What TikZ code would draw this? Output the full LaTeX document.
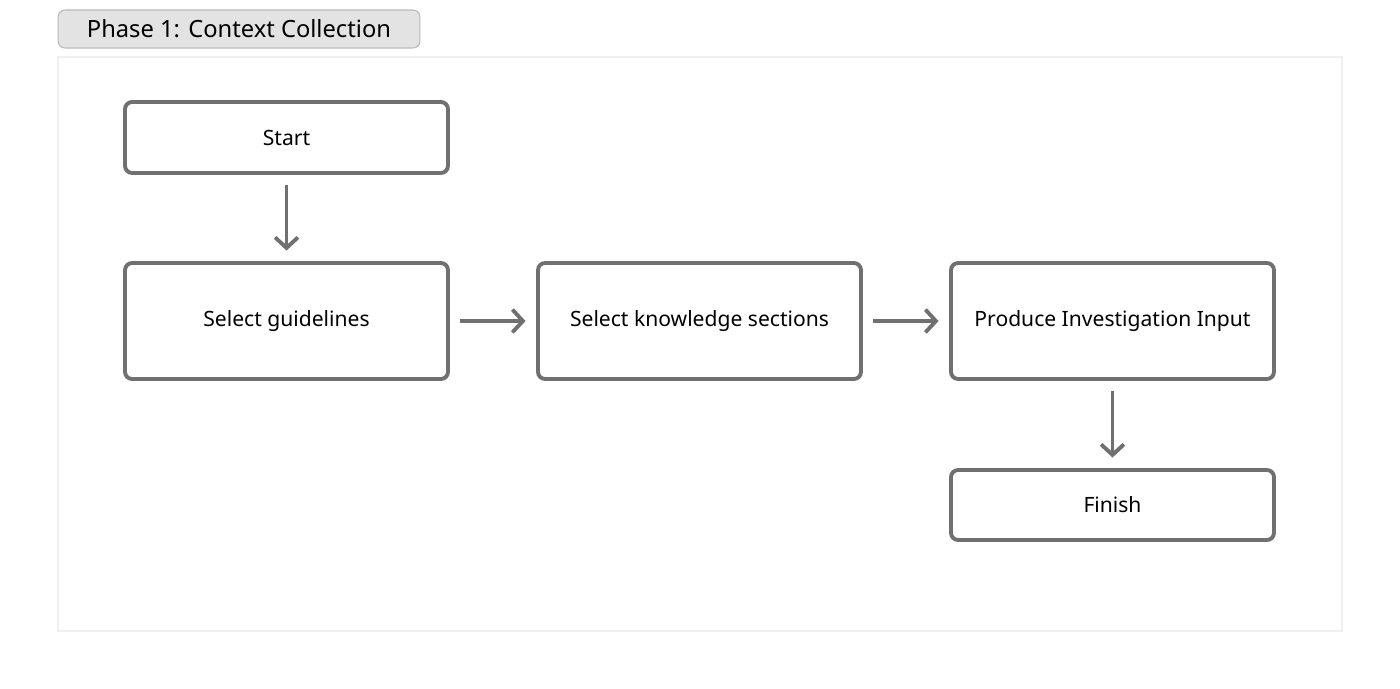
\documentclass[tikz,border=0pt]{standalone}
\usepackage{fontspec}
\setmainfont{Noto Sans}
\usetikzlibrary{positioning,arrows.meta}
\definecolor{boxgray}{HTML}{707070}
\tikzset{
  stepbox/.style={draw=boxgray, line width=2.2pt, rounded corners=4pt, minimum width=6.46cm, align=center, font=\fontsize{12}{14}\selectfont},
  flow/.style={draw=boxgray, line width=2.2pt, -{Straight Barb[length=6pt,width=13pt]}, shorten >=6pt, shorten <=6pt},
}
\begin{document}
\begin{tikzpicture}[x=0.02cm,y=-0.02cm]
\useasboundingbox (0,0) rectangle (1400,689);
\draw[gray!12, line width=0.6pt] (58,57) rectangle (1342,631);
\node[draw=gray!55, fill=gray!22, rounded corners=4pt, line width=0.6pt, minimum width=7.24cm, minimum height=0.76cm, font=\fontsize{13.5}{16}\selectfont] (phase) at (239,29) {Phase 1: Context Collection};

\node[stepbox, minimum height=1.42cm] (start) at (286.5,137.5) {Start};
\node[stepbox, minimum height=2.32cm] (guide) at (286.5,321) {Select guidelines};
\node[stepbox, minimum height=2.32cm] (know) at (699.5,321) {Select knowledge sections};
\node[stepbox, minimum height=2.32cm] (prod) at (1112.5,321) {Produce Investigation Input};
\node[stepbox, minimum height=1.40cm] (finish) at (1112.5,505) {Finish};

\draw[flow] (start) -- (guide);
\draw[flow] (guide) -- (know);
\draw[flow] (know) -- (prod);
\draw[flow] (prod) -- (finish);
\end{tikzpicture}
\end{document}
